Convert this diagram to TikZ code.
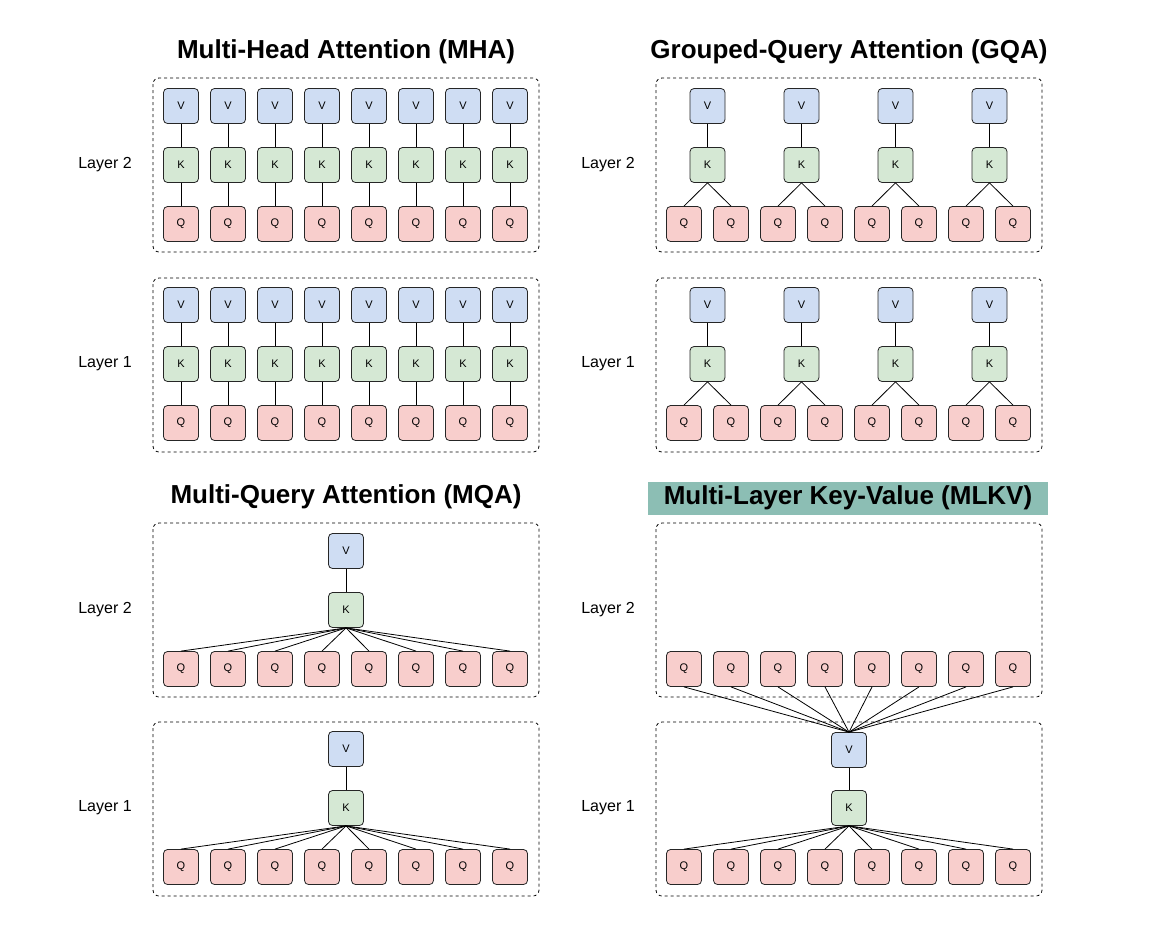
\documentclass[tikz,border=0pt]{standalone}
\usepackage{fontspec}
\setmainfont{Liberation Sans}
\begin{document}
\begin{tikzpicture}[x=1pt,y=-1pt,
 box/.style={draw=black!85,rounded corners=4pt,minimum size=35pt,inner sep=0pt,font=\fontsize{11}{12}\selectfont,line width=0.8pt},
 vb/.style={box,fill=blue!15!cyan!5!white,fill={rgb,255:red,207;green,221;blue,243}},
 kb/.style={box,fill={rgb,255:red,213;green,232;blue,212}},
 qb/.style={box,fill={rgb,255:red,248;green,206;blue,204}},
 frame/.style={draw,dashed,rounded corners=6pt,line width=0.8pt},
 title/.style={font=\fontsize{26}{30}\selectfont\bfseries},
 lay/.style={font=\fontsize{16}{18}\selectfont},
 ln/.style={line width=0.8pt}]
\useasboundingbox (0,0) rectangle (1154,930);
% frames
\draw[frame] (153,78) rectangle (539,252);
\draw[frame] (153,278) rectangle (539,452);
\draw[frame] (153,523) rectangle (539,697);
\draw[frame] (153,722) rectangle (539,896);
\draw[frame] (656,78) rectangle (1042,252);
\draw[frame] (656,278) rectangle (1042,452);
\draw[frame] (656,523) rectangle (1042,697);
\draw[frame] (656,722) rectangle (1042,896);
% titles
\node[title] (t1) at (346,52) {Multi-Head Attention (MHA)};
\node[title] (t2) at (849,52) {Grouped-Query Attention (GQA)};
\node[title] (t3) at (346,497) {Multi-Query Attention (MQA)};
\node[title,fill={rgb,255:red,140;green,190;blue,180},inner sep=1pt,minimum width=400pt,minimum height=33pt] (t4) at (848,498) {Multi-Layer Key-Value (MLKV)};
% layer labels
\node[lay] (l1) at (105,165) {Layer 2};
\node[lay] (l2) at (105,364) {Layer 1};
\node[lay] (l3) at (105,610) {Layer 2};
\node[lay] (l4) at (105,808) {Layer 1};
\node[lay] (l5) at (608,165) {Layer 2};
\node[lay] (l6) at (608,364) {Layer 1};
\node[lay] (l7) at (608,610) {Layer 2};
\node[lay] (l8) at (608,808) {Layer 1};
% MHA
\foreach \L/\y in {a/0,b/199}{
 \foreach \i in {0,...,7}{
  \pgfmathsetmacro\xx{181+47*\i}
  \node[vb] (mhav\L\i) at (\xx,106+\y) {V};
  \node[kb] (mhak\L\i) at (\xx,165+\y) {K};
  \node[qb] (mhaq\L\i) at (\xx,224+\y) {Q};
  \draw[ln] (mhav\L\i) -- (mhak\L\i) -- (mhaq\L\i);
 }}
% GQA
\foreach \L/\y in {a/0,b/199}{
 \foreach \g in {0,...,3}{
  \pgfmathsetmacro\xx{707.5+94*\g}
  \node[vb] (gqav\L\g) at (\xx,106+\y) {V};
  \node[kb] (gqak\L\g) at (\xx,165+\y) {K};
  \draw[ln] (gqav\L\g) -- (gqak\L\g);
  \pgfmathsetmacro\xa{684+94*\g}
  \pgfmathsetmacro\xb{731+94*\g}
  \node[qb] (gqaq\L\g a) at (\xa,224+\y) {Q};
  \node[qb] (gqaq\L\g b) at (\xb,224+\y) {Q};
  \draw[ln] (gqak\L\g.south) -- (gqaq\L\g a.north);
  \draw[ln] (gqak\L\g.south) -- (gqaq\L\g b.north);
 }}
% MQA
\foreach \L/\y in {a/0,b/198}{
  \node[vb] (mqav\L) at (346,551+\y) {V};
  \node[kb] (mqak\L) at (346,610+\y) {K};
  \draw[ln] (mqav\L) -- (mqak\L);
  \foreach \i in {0,...,7}{
   \pgfmathsetmacro\xx{181+47*\i}
   \node[qb] (mqaq\L\i) at (\xx,669+\y) {Q};
   \draw[ln] (mqak\L.south) -- (mqaq\L\i.north);
  }}
% MLKV
\node[vb] (mlv) at (849,750) {V};
\node[kb] (mlk) at (849,808) {K};
\draw[ln] (mlv) -- (mlk);
\foreach \i in {0,...,7}{
  \pgfmathsetmacro\xx{684+47*\i}
  \node[qb] (mlqa\i) at (\xx,669) {Q};
  \draw[ln] (mlqa\i.south) -- (mlv.north);
  \node[qb] (mlqb\i) at (\xx,867) {Q};
  \draw[ln] (mlk.south) -- (mlqb\i.north);
}
\end{tikzpicture}
\end{document}
